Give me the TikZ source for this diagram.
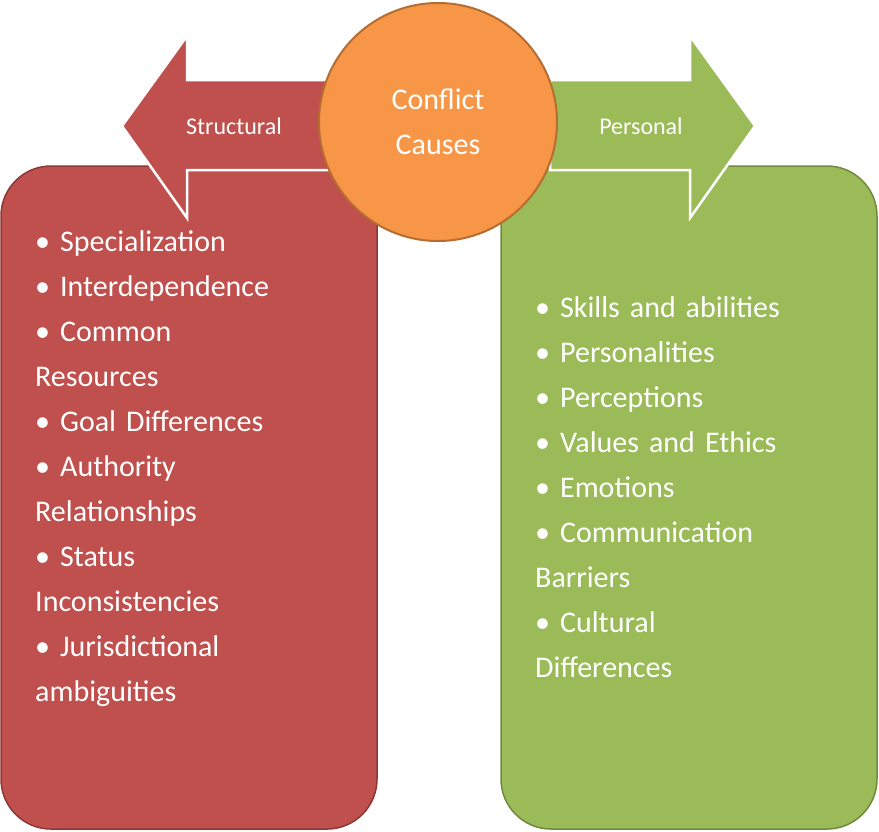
\documentclass[tikz,border=0pt]{standalone}
\usepackage{fontspec}
\setmainfont{Carlito}
\definecolor{rd}{HTML}{C0504D}
\definecolor{rdb}{HTML}{8C3836}
\definecolor{gr}{HTML}{9BBB59}
\definecolor{grb}{HTML}{71893F}
\definecolor{og}{HTML}{F79646}
\definecolor{ogb}{HTML}{B66D31}
\begin{document}
\begin{tikzpicture}[x=1pt,y=-1pt,
  listtxt/.style={text=white,font=\fontsize{30}{45}\selectfont,align=left,anchor=north west,inner sep=0pt,text width=330pt},
  lbl/.style={text=white,font=\fontsize{24}{28}\selectfont}]
\useasboundingbox (0,0) rectangle (879,831);
\draw[fill=rd,draw=rdb,line width=1.5pt,rounded corners=50pt] (1,166) rectangle (377,829);
\draw[fill=gr,draw=grb,line width=1.5pt,rounded corners=50pt] (501,166) rectangle (877,829);
\draw[fill=rd,draw=white,line width=2.5pt] (330,80) -- (187,80) -- (187,36) -- (122,126) -- (187,218) -- (187,170) -- (330,170) -- cycle;
\draw[fill=gr,draw=white,line width=2.5pt] (550,80) -- (690,80) -- (690,36) -- (755,126) -- (690,218) -- (690,170) -- (550,170) -- cycle;
\node[circle,fill=og,draw=ogb,line width=2pt,minimum size=238pt,inner sep=0pt] (c) at (438,122) {};
\node[text=white,font=\fontsize{30}{45}\selectfont,align=center] (ct) at (438,122) {Conflict\\Causes};
\node[lbl] (s) at (234,126) {Structural};
\node[lbl] (p) at (641,126) {Personal};
\node[listtxt] (l) at (35,230) {• Specialization\\• Interdependence\\• Common\\Resources\\• Goal Differences\\• Authority\\Relationships\\• Status\\Inconsistencies\\• Jurisdictional\\ambiguities};
\node[listtxt] (r) at (535,296) {• Skills and abilities\\• Personalities\\• Perceptions\\• Values and Ethics\\• Emotions\\• Communication\\Barriers\\• Cultural\\Differences};
\end{tikzpicture}
\end{document}
